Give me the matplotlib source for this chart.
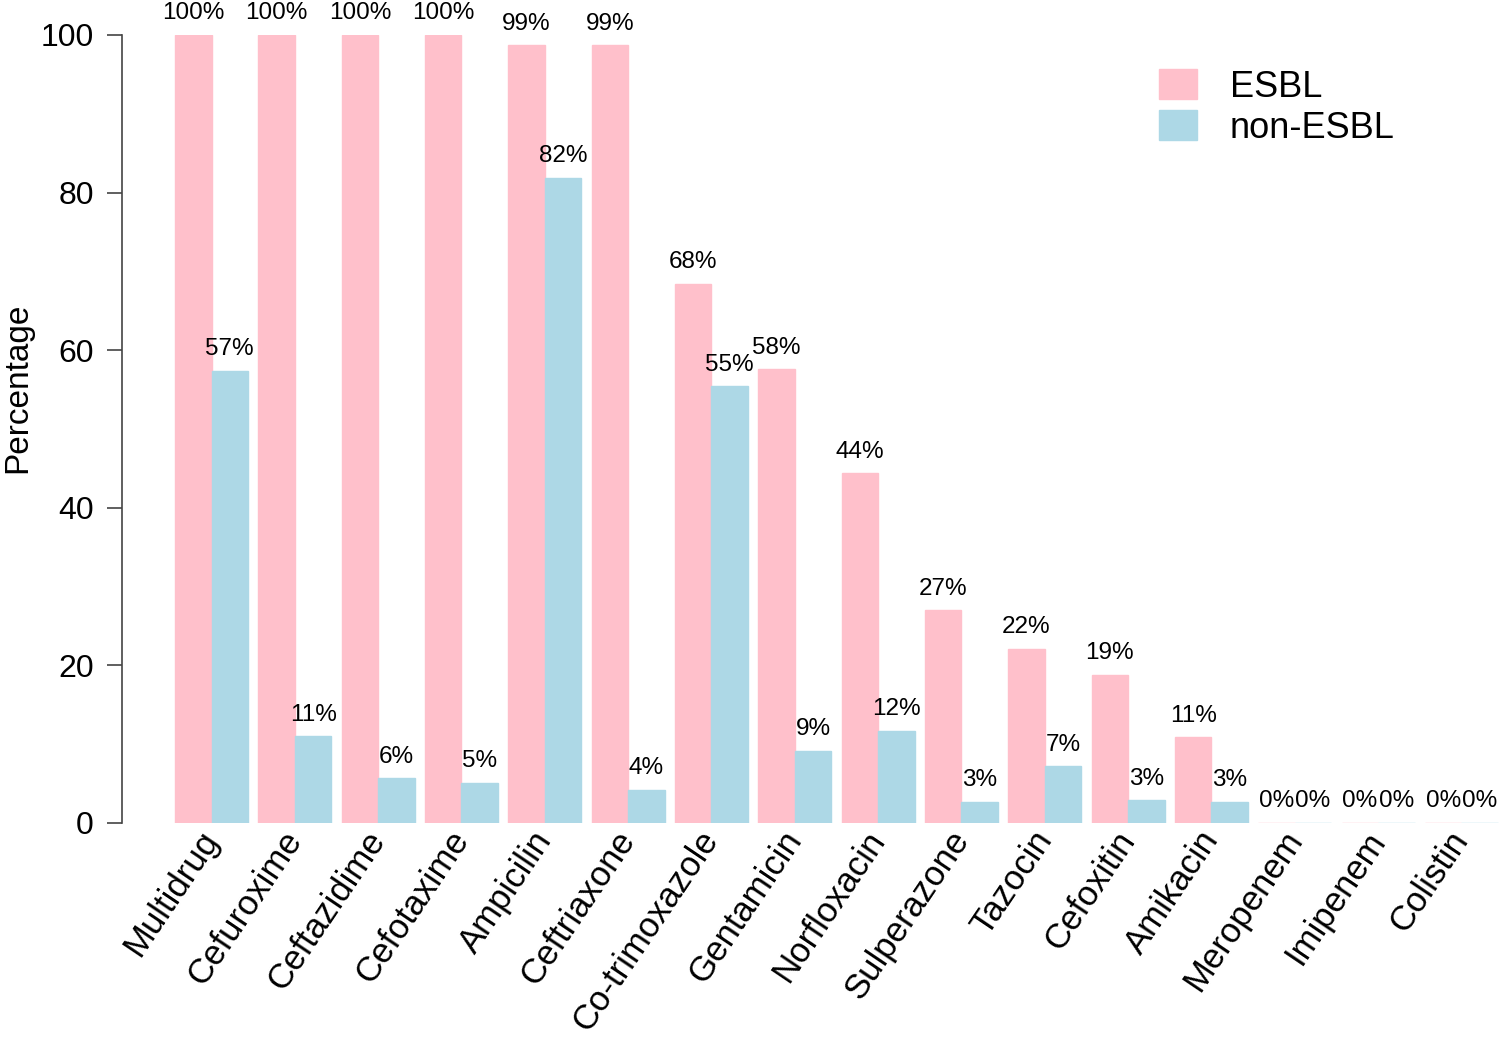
import matplotlib.pyplot as plt
import numpy as np

plt.rcParams["font.family"] = ["Liberation Sans", "DejaVu Sans"]

drugs = ["Multidrug", "Cefuroxime", "Ceftazidime", "Cefotaxime", "Ampicilin",
         "Ceftriaxone", "Co-trimoxazole", "Gentamicin", "Norfloxacin",
         "Sulperazone", "Tazocin", "Cefoxitin", "Amikacin", "Meropenem",
         "Imipenem", "Colistin"]
esbl = [100, 100, 100, 100, 98.7, 98.7, 68.4, 57.6, 44.4, 27.0, 22.1, 18.8,
        10.9, 0, 0, 0]
non_esbl = [57.4, 11.0, 5.7, 5.1, 81.9, 4.2, 55.4, 9.2, 11.7, 2.7, 7.2, 2.9,
            2.7, 0, 0, 0]

PINK = "#FFC0CB"
BLUE = "#ADD8E6"
W = 0.438

fig = plt.figure(figsize=(15, 10.4), dpi=100)
ax = fig.add_axes([122 / 1500, 1 - 823 / 1040, 1 - 122 / 1500, (823 - 35) / 1040])

x = np.arange(len(drugs))
b1 = ax.bar(x - W / 2, esbl, W, color=PINK, edgecolor=PINK, linewidth=1, label="ESBL")
b2 = ax.bar(x + W / 2, non_esbl, W, color=BLUE, edgecolor=BLUE, linewidth=1, label="non-ESBL")

for bars, vals in ((b1, esbl), (b2, non_esbl)):
    for rect, v in zip(bars, vals):
        ax.annotate(f"{round(v)}%", (rect.get_x() + rect.get_width() / 2, v),
                    xytext=(0, 15.5), textcoords="offset points",
                    ha="center", va="center", fontsize=17.5, annotation_clip=False)

ax.set_xlim((122 - 211.5) / 83.33, (1500 - 211.5) / 83.33)
ax.set_ylim(0, 100)

for s in ("top", "right", "bottom"):
    ax.spines[s].set_visible(False)
ax.spines["left"].set_color("#444444")
ax.spines["left"].set_linewidth(1.2)

ax.set_yticks([0, 20, 40, 60, 80, 100])
ax.tick_params(axis="y", length=10.8, width=1.2, color="#444444", pad=9.5, labelsize=23)
ax.set_xticks(x)
ax.set_xticklabels(drugs, rotation=56, ha="right", va="center",
                   rotation_mode="anchor", fontsize=25)
ax.tick_params(axis="x", length=0, pad=8)

ax.set_ylabel("Percentage", fontsize=24)
ax.yaxis.set_label_coords((33 - 122) / 1378, (823 - 388) / 788)

ax.legend(loc="upper left", bbox_to_anchor=(1134 / 1500, 1 - 44 / 1040),
          bbox_transform=fig.transFigure, frameon=False, fontsize=26,
          handlelength=1.05, handleheight=0.9, handletextpad=0.9,
          labelspacing=0.15, borderpad=0.2)

fig.savefig("out.png", dpi=100)
